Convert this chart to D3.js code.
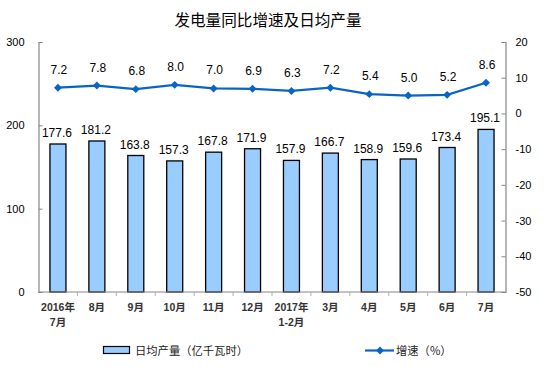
<!DOCTYPE html>
<html>
<head>
<meta charset="utf-8">
<script src="https://cdn.jsdelivr.net/npm/d3@7"></script>
<style>
  html, body { margin: 0; padding: 0; background: #fff; }
  svg { display: block; font-family: "Liberation Sans", Arial, "Noto Sans CJK SC", sans-serif; }
</style>
</head>
<body>
<svg id="chart" width="559" height="385"></svg>
<script>
const categories = ["2016年\n7月", "8月", "9月", "10月", "11月", "12月", "2017年\n1-2月", "3月", "4月", "5月", "6月", "7月"];
const dailyOutput = [177.6, 181.2, 163.8, 157.3, 167.8, 171.9, 157.9, 166.7, 158.9, 159.6, 173.4, 195.1];
const growthRate = [7.2, 7.8, 6.8, 8.0, 7.0, 6.9, 6.3, 7.2, 5.4, 5.0, 5.2, 8.6];
const leftTicks = [0, 100, 200, 300];
const rightTicks = [-50, -40, -30, -20, -10, 0, 10, 20];
const titleText = "发电量同比增速及日均产量";
const legendBar = "日均产量（亿千瓦时）";
const legendLine = "增速（%）";

(function () {
const svg = d3.select("#chart");
const pL = 38.5, pR = 505.5, pT = 42, pB = 292;
const lineColor = "#0a64c8";
const barFill = "#99ccff";
const axisColor = "#868686";

const x = d3.scaleBand().domain(categories).range([pL, pR]).paddingInner(0).paddingOuter(0);
const yL = d3.scaleLinear().domain([0, 300]).range([pB, pT]);
const yR = d3.scaleLinear().domain([-50, 20]).range([pB, pT]);
const barW = 16;
const cx = i => x(categories[i]) + x.bandwidth() / 2;

// Title
svg.append("text")
  .attr("x", 268).attr("y", 26)
  .attr("text-anchor", "middle")
  .attr("font-family", "'Noto Sans CJK SC', sans-serif")
  .attr("font-size", 15.6)
  .attr("fill", "#000")
  .text(titleText);

// Bars
svg.append("g").selectAll("rect")
  .data(dailyOutput)
  .join("rect")
  .attr("x", (d, i) => cx(i) - barW / 2)
  .attr("y", d => yL(d))
  .attr("width", barW)
  .attr("height", d => pB - yL(d))
  .attr("fill", barFill)
  .attr("stroke", "#000")
  .attr("stroke-width", 1.3);

// Bar labels
svg.append("g").selectAll("text")
  .data(dailyOutput)
  .join("text")
  .attr("x", (d, i) => cx(i) - 1)
  .attr("y", d => yL(d) - 7)
  .attr("text-anchor", "middle")
  .attr("font-size", 12)
  .attr("fill", "#000")
  .text(d => d.toFixed(1));

// Left axis
const gL = svg.append("g").attr("transform", `translate(${pL},0)`)
  .call(d3.axisRight(yL).tickValues(leftTicks).tickSize(4).tickFormat(d => String(d)));
gL.select(".domain").attr("stroke", axisColor).attr("stroke-width", 1.2);
gL.selectAll(".tick line").attr("stroke", axisColor);
gL.selectAll(".tick text").attr("x", -14).attr("text-anchor", "end")
  .attr("font-size", 11).attr("font-family", "'Liberation Sans', Arial, sans-serif").attr("fill", "#000");

// Right axis
const gR = svg.append("g").attr("transform", `translate(${pR},0)`)
  .call(d3.axisLeft(yR).tickValues(rightTicks).tickSize(4).tickFormat(d => String(d)));
gR.select(".domain").attr("stroke", axisColor).attr("stroke-width", 1.2);
gR.selectAll(".tick line").attr("stroke", axisColor);
gR.selectAll(".tick text").attr("x", 10).attr("text-anchor", "start")
  .attr("font-size", 11).attr("font-family", "'Liberation Sans', Arial, sans-serif").attr("fill", "#000");

// Bottom axis
const gB = svg.append("g").attr("transform", `translate(0,${pB})`);
gB.append("line").attr("x1", pL).attr("x2", pR).attr("y1", 0).attr("y2", 0)
  .attr("stroke", axisColor).attr("stroke-width", 1.2);
const boundaries = categories.map(c => x(c)).slice(1);
gB.selectAll("line.tk").data(boundaries).join("line").attr("class", "tk")
  .attr("x1", d => d).attr("x2", d => d).attr("y1", 0).attr("y2", 4)
  .attr("stroke", "#b0b0b0").attr("stroke-width", 1);
const xl = gB.selectAll("text.xl").data(categories).join("text").attr("class", "xl")
  .attr("text-anchor", "middle")
  .attr("font-size", 10.5)
  .attr("font-weight", "bold")
  .attr("fill", "#333")
  .attr("transform", (d, i) => `translate(${cx(i)},0)`);
xl.each(function(d) {
  const lines = d.split("\n");
  d3.select(this).selectAll("tspan").data(lines).join("tspan")
    .attr("x", 0).attr("y", (l, j) => 18.5 + j * 15)
    .text(l => l);
});

// Line
const line = d3.line()
  .x((d, i) => cx(i))
  .y(d => yR(d));
svg.append("path").datum(growthRate)
  .attr("d", line)
  .attr("fill", "none")
  .attr("stroke", lineColor)
  .attr("stroke-width", 2.2);

const diamond = d3.symbol().type(d3.symbolDiamond2).size(40);
svg.append("g").selectAll("path")
  .data(growthRate)
  .join("path")
  .attr("d", diamond)
  .attr("transform", (d, i) => `translate(${cx(i)},${yR(d)})`)
  .attr("fill", lineColor);

svg.append("g").selectAll("text")
  .data(growthRate)
  .join("text")
  .attr("x", (d, i) => cx(i) + 1)
  .attr("y", d => yR(d) - 14)
  .attr("text-anchor", "middle")
  .attr("font-size", 12)
  .attr("fill", "#000")
  .text(d => d.toFixed(1));

// Legend
const lg = svg.append("g");
lg.append("rect").attr("x", 103.5).attr("y", 346.5).attr("width", 26).attr("height", 7)
  .attr("fill", barFill).attr("stroke", "#000").attr("stroke-width", 1.2);
lg.append("text").attr("x", 135).attr("y", 354.5)
  .attr("font-family", "'Noto Sans CJK SC', sans-serif")
  .attr("font-size", 11.3).attr("fill", "#222").text(legendBar);
lg.append("line").attr("x1", 365).attr("x2", 394).attr("y1", 350.5).attr("y2", 350.5)
  .attr("stroke", lineColor).attr("stroke-width", 2.2);
lg.append("path").attr("d", diamond).attr("transform", "translate(380,350.5)").attr("fill", lineColor);
lg.append("text").attr("x", 396).attr("y", 354.5)
  .attr("font-family", "'Noto Sans CJK SC', sans-serif")
  .attr("font-size", 11.3).attr("fill", "#222").text(legendLine);
})();
</script>
</body>
</html>
